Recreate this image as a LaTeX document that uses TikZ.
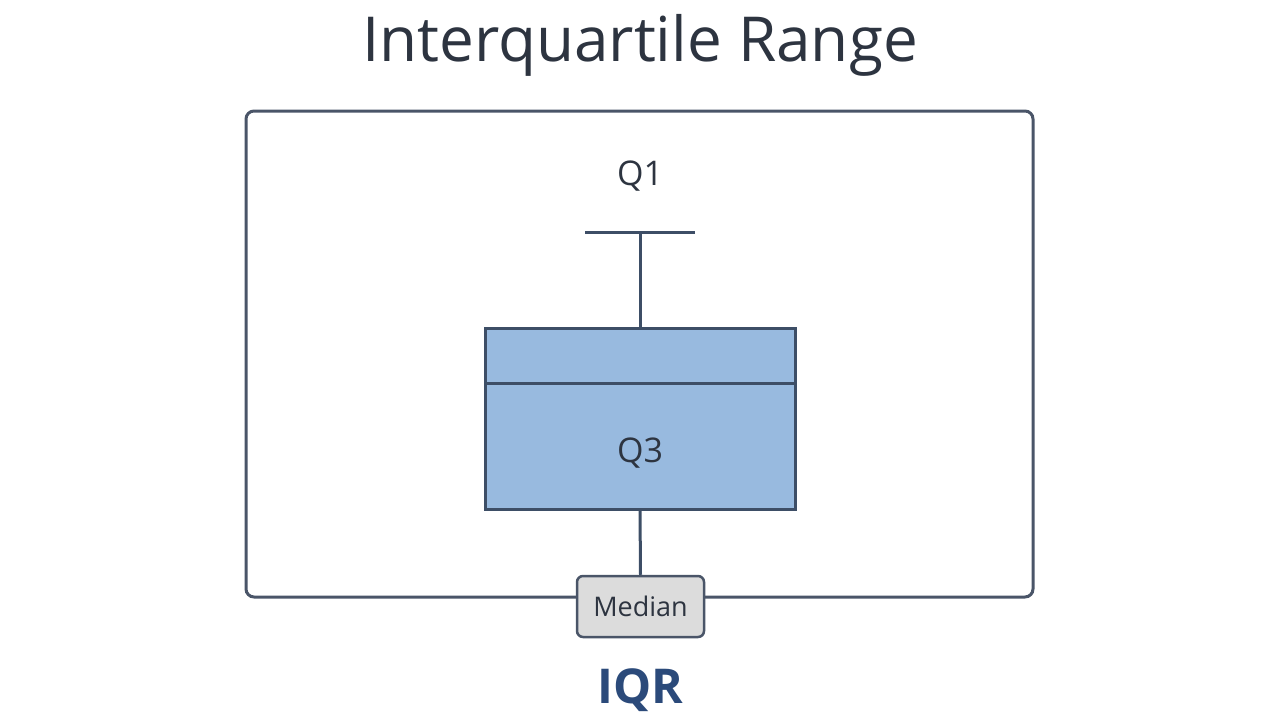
\documentclass[tikz,border=0pt]{standalone}
\usepackage{fontspec}
\setmainfont{Open Sans}
\usetikzlibrary{positioning}
\definecolor{inkgray}{HTML}{2D3440}
\definecolor{framegray}{HTML}{4A5568}
\definecolor{boxblue}{HTML}{98BADF}
\definecolor{boxedge}{HTML}{3D4E66}
\definecolor{medfill}{HTML}{DCDCDC}
\definecolor{iqrblue}{HTML}{2B4A7A}
\tikzset{
  frame/.style={draw=framegray, line width=3pt, rounded corners=8pt},
  whisker/.style={draw=boxedge, line width=3pt},
  label/.style={text=inkgray, font=\fontsize{34}{40}\selectfont},
}
\begin{document}
\begin{tikzpicture}[x=1pt,y=-1pt]
  \useasboundingbox (0,0) rectangle (1280,720);
  % title
  \node[text=inkgray, font=\fontsize{62}{70}\selectfont] (title) at (640,45) {Interquartile Range};
  % outer frame
  \draw[frame] (246,111) rectangle (1033,597);
  % box
  \draw[whisker, fill=boxblue] (485,328) rectangle (795,509);
  \draw[whisker] (485,383) -- (795,383);
  \node[label] (q1) at (640,176) {Q1};
  \node[label] (q3) at (640,453) {Q3};
  % whiskers
  \coordinate (wtop) at (640,232);
  \coordinate (boxtop) at (640,328);
  \coordinate (boxbot) at (640,509);
  \draw[whisker] (585,232) -- (695,232);
  \draw[whisker] (wtop) -- (boxtop);
  \node[draw=framegray, line width=2.5pt, fill=medfill, rounded corners=6pt,
        minimum width=127pt, minimum height=61pt, text=inkgray,
        font=\fontsize{27}{32}\selectfont] (median) at (640.5,606.5) {Median};
  \draw[whisker] (boxbot) -- (median.north);
  % bottom label
  \node[text=iqrblue, font=\bfseries\fontsize{48}{56}\selectfont] (iqr) at (640,690) {IQR};
\end{tikzpicture}
\end{document}
